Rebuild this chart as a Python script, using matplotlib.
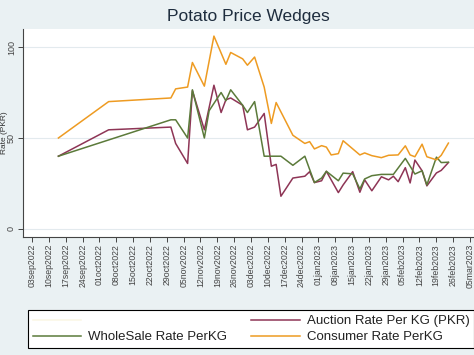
import matplotlib
matplotlib.use('Agg')
import matplotlib.pyplot as plt
import matplotlib.dates as mdates
from matplotlib.lines import Line2D
import numpy as np
import pandas as pd

plt.rcParams['font.family'] = ['Liberation Sans', 'DejaVu Sans']

nan = np.nan

# survey dates (union of all three series)
dates = pd.to_datetime([
    '2022-09-14', '2022-10-05', '2022-10-31', '2022-11-02', '2022-11-07',
    '2022-11-09', '2022-11-14', '2022-11-16', '2022-11-18', '2022-11-21',
    '2022-11-23', '2022-11-25', '2022-11-30', '2022-12-02', '2022-12-05',
    '2022-12-09', '2022-12-12', '2022-12-14', '2022-12-16', '2022-12-21',
    '2022-12-26', '2022-12-28', '2022-12-30', '2023-01-02', '2023-01-04',
    '2023-01-06', '2023-01-09', '2023-01-11', '2023-01-15', '2023-01-18',
    '2023-01-20', '2023-01-23', '2023-01-27', '2023-01-30', '2023-02-01',
    '2023-02-03', '2023-02-06', '2023-02-08', '2023-02-10', '2023-02-13',
    '2023-02-15', '2023-02-19', '2023-02-21', '2023-02-24',
])

auction = [40, 54.5, 56, 47, 36, 76, 54.5, nan, 79, 64,
           71, 72, 68, 54.5, 56, 63.5, 34.5, 35.5, 18, 28,
           29, 31.5, 25.5, 26.5, 31.7, nan, 20, 24.2, 31.5, 20.2,
           27, 21, 28.7, 27, 29, 26, 33.7, 25.3, 37.9, 32,
           23.7, 30.8, 32.2, 36.5]

wholesale = [40, nan, 60, 60, 50, 76.5, 50, 65, nan, 75,
             70.5, 76.5, 68, 64, 70, 40, nan, nan, 40, 35,
             40, nan, 25.5, 28, 31.7, nan, 26.5, 30.7, 30.3, 22,
             27.5, 29.3, 30, nan, 30, nan, 38.8, nan, 30.2, 32,
             24.2, 39.5, 36.5, 36.7]

consumer = [50, 70, 72, 77, 78, 91.5, 78.5, nan, 106, nan,
            90.5, 97, 93.5, 90, 94.5, 78, 58, 69.5, nan, 51.5,
            47, 48, 44, 45.8, 45, 40.7, 41.4, 48.5, nan, 40.7,
            41.8, 40.3, 39.2, 40.5, nan, 40.7, 45.7, 40.7, 39.7, 46.6,
            39.7, 38, 40.5, 47.2]

tick_labels = ['03sep2022', '10sep2022', '17sep2022', '24sep2022', '01oct2022',
               '08oct2022', '15oct2022', '22oct2022', '29oct2022', '05nov2022',
               '12nov2022', '19nov2022', '26nov2022', '03dec2022', '10dec2022',
               '17dec2022', '24dec2022', '01jan2023', '08jan2023', '15jan2023',
               '22jan2023', '29jan2023', '05feb2023', '12feb2023', '19feb2023',
               '26feb2023', '05mar2023']

bg = '#EAF1F3'
fig = plt.figure(figsize=(4.74, 3.55), dpi=100, facecolor=bg)
ax = fig.add_axes([23/474, 1 - 237/355, 1 - 23/474, (237 - 29)/355])
ax.set_facecolor('white')

def draw(vals, color, label):
    s = pd.Series(vals, index=dates).dropna()
    return ax.plot(s.index, s.values, color=color, lw=1.1, label=label)[0]

l_auc = draw(auction, '#8E3556', 'Auction Rate Per KG (PKR)')
l_whl = draw(wholesale, '#5B7A3A', 'WholeSale Rate PerKG')
l_con = draw(consumer, '#EE9B22', 'Consumer Rate PerKG')

start = mdates.date2num(pd.Timestamp('2022-09-03'))
ticks = np.linspace(start, start + 183, 27)
ax.set_xticks(ticks)
ax.set_xticklabels(tick_labels, rotation=90, fontsize=6.3, color='#333333')
ax.set_xlim(start - 3.8, start + 184.7)

ax.set_ylim(-4.4, 109.9)
ax.set_yticks([0, 50, 100])
ax.set_yticklabels(['0', '50', '100'], rotation=90, va='center', fontsize=6.5, color='#333333')
ax.set_ylabel('Rate (PKR)', fontsize=6, color='#333333')
ax.yaxis.set_label_coords(-14.5/451, 0.5)
ax.yaxis.grid(True, color='#E3EAEE', lw=0.8)
ax.set_axisbelow(True)

for side in ['top', 'right']:
    ax.spines[side].set_visible(False)
for side in ['left', 'bottom']:
    ax.spines[side].set_color('#444444')
    ax.spines[side].set_linewidth(0.8)
ax.tick_params(axis='both', colors='#444444', length=3.5, width=0.7, pad=1.5)

ax.set_title('Potato Price Wedges', fontsize=12.5, color='#1E2D3E', pad=6)

blank = Line2D([], [], color='#FBF6E4', lw=1.1)
leg = fig.legend([blank, l_whl, l_auc, l_con],
                 ['', 'WholeSale Rate PerKG', 'Auction Rate Per KG (PKR)', 'Consumer Rate PerKG'],
                 ncol=2, loc='lower left', mode='expand',
                 bbox_to_anchor=(28/474, 1 - 348/355, 1 - 28/474, 46/355),
                 borderaxespad=0, fontsize=9.5, handlelength=3.7, handletextpad=0.5,
                 columnspacing=1.5, labelspacing=0.3, borderpad=0.35,
                 fancybox=False, framealpha=1, edgecolor='black')
leg.get_frame().set_linewidth(0.8)
for t in leg.get_texts():
    t.set_color('#222222')

fig.savefig('out.png', dpi=100, facecolor=bg)
